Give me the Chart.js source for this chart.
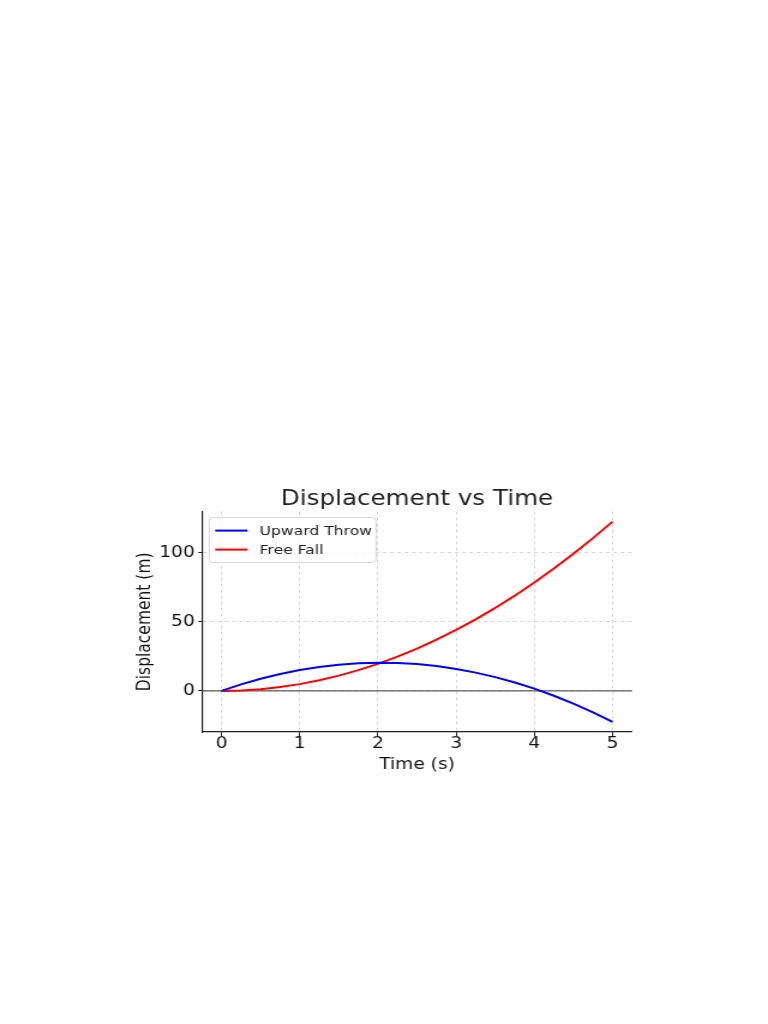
<html>
<head>
<meta charset="utf-8">
<script src="https://cdn.jsdelivr.net/npm/chart.js@4.4.0/dist/chart.umd.min.js"></script>
<style>
  body { margin:0; background:#fff; }
  /* reference is stretched sideways, so draw narrow and let css widen it */
  #c { position:absolute; left:0; top:0; width:768px; height:1024px; }
</style>
</head>
<body>
<canvas id="c" width="640" height="1024" style="width:768px;height:1024px;"></canvas>
<script>
// values (every 0.25 s)
var times = [0,0.25,0.5,0.75,1,1.25,1.5,1.75,2,2.25,2.5,2.75,3,3.25,3.5,3.75,4,4.25,4.5,4.75,5];
var upwardThrow = [0,4.69,8.78,12.24,15.1,17.34,18.98,19.99,20.4,20.19,19.38,17.94,15.9,13.24,9.98,6.09,1.6,-3.51,-9.23,-15.56,-22.5];
var freeFall = [0,0.31,1.23,2.76,4.9,7.66,11.03,15.01,19.6,24.81,30.63,37.06,44.1,51.76,60.03,68.91,78.4,88.51,99.23,110.56,122.5];
var xTicks = [0,1,2,3,4,5];
var yTicks = [0,50,100];
var seriesNames = ['Upward Throw','Free Fall'];

function pts(ys){ return times.map(function(t,i){ return {x:t, y:ys[i]}; }); }

var font = 'DejaVu Sans';

// black line at y=0 and legend box inside the plot
var extras = {
  id:'extras',
  beforeDatasetsDraw: function(chart){
    var ctx = chart.ctx, a = chart.chartArea, y0 = chart.scales.y.getPixelForValue(0);
    ctx.save();
    ctx.strokeStyle = '#333'; ctx.lineWidth = 1;
    ctx.beginPath(); ctx.moveTo(a.left, y0); ctx.lineTo(a.right, y0); ctx.stroke();
    ctx.restore();
  },
  afterDatasetsDraw: function(chart){
    var ctx = chart.ctx, a = chart.chartArea;
    var bx = a.left + 6, by = a.top + 6, bw = 139, bh = 45;
    ctx.save();
    ctx.fillStyle = 'rgba(255,255,255,0.85)';
    ctx.strokeStyle = '#d6d6d6'; ctx.lineWidth = 1;
    ctx.beginPath(); ctx.roundRect(bx, by, bw, bh, 3); ctx.fill(); ctx.stroke();
    ctx.font = '13px "' + font + '"';
    ctx.textBaseline = 'middle';
    chart.data.datasets.forEach(function(ds, i){
      var ly = by + 13 + i*19;
      ctx.strokeStyle = ds.borderColor; ctx.lineWidth = 2;
      ctx.beginPath(); ctx.moveTo(bx + 5, ly); ctx.lineTo(bx + 32, ly); ctx.stroke();
      ctx.fillStyle = '#222';
      ctx.fillText(ds.label, bx + 42, ly + 1);
    });
    ctx.restore();
  }
};

new Chart(document.getElementById('c'), {
  type: 'scatter',
  data: {
    datasets: [
      { label: seriesNames[0], data: pts(upwardThrow), borderColor:'#0000ff', backgroundColor:'#0000ff', showLine:true, pointRadius:0, borderWidth:2 },
      { label: seriesNames[1], data: pts(freeFall), borderColor:'#ff0000', backgroundColor:'#ff0000', showLine:true, pointRadius:0, borderWidth:2 }
    ]
  },
  options: {
    responsive: false,
    animation: false,
    layout: { padding: { left: 108.3, right: 113.3, top: 485, bottom: 242 } },
    plugins: {
      legend: { display:false },
      tooltip: { enabled:false },
      title: { display:true, text:'Displacement vs Time', color:'#222', fullSize:false,
               font:{ family:font, size:20.5, weight:'normal' }, padding:{ top:2, bottom:0 } }
    },
    scales: {
      x: {
        type:'linear', min:-0.25, max:5.25,
        afterBuildTicks: function(s){ s.ticks = xTicks.map(function(v){ return {value:v}; }); },
        afterFit: function(s){ s.height = 50; },
        ticks: { color:'#111', font:{ family:font, size:15.5 }, padding:-1, maxRotation:0, autoSkip:false },
        grid: { color:'#cccccc', lineWidth:0.8, tickColor:'#222', tickLength:4, tickWidth:1 },
        border: { color:'#222', width:1.2, dash:[3,3] },
        title: { display:true, text:'Time (s)', color:'#111', font:{ family:font, size:15.5 }, padding:{ top:0, bottom:8 } }
      },
      y: {
        type:'linear', min:-29.75, max:129.75,
        afterBuildTicks: function(s){ s.ticks = yTicks.map(function(v){ return {value:v}; }); },
        afterFit: function(s){ s.width = 60; },
        ticks: { color:'#111', font:{ family:font, size:15.5 }, padding:3, autoSkip:false },
        grid: { color:'#cccccc', lineWidth:0.8, tickColor:'#222', tickLength:3, tickWidth:1 },
        border: { color:'#222', width:1.2, dash:[3,3] },
        title: { display:true, text:'Displacement (m)', color:'#111', font:{ family:font, size:15.5 }, padding:{ top:3, bottom:0 } }
      }
    }
  },
  plugins: [extras]
});
</script>
</body>
</html>
